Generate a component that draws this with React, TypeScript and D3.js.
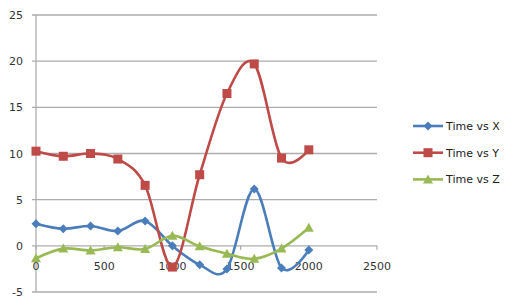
import React from "react";
import * as d3 from "d3";

const times = [0, 200, 400, 600, 800, 1000, 1200, 1400, 1600, 1800, 2000];
const seriesX = [2.4, 1.85, 2.15, 1.6, 2.7, 0, -2.05, -2.5, 6.15, -2.4, -0.45];
const seriesY = [10.25, 9.7, 10.0, 9.4, 6.55, -2.3, 7.7, 16.5, 19.7, 9.5, 10.4];
const seriesZ = [-1.35, -0.3, -0.5, -0.15, -0.35, 1.1, -0.05, -0.85, -1.4, -0.3, 1.95];
const xTicks = [0, 500, 1000, 1500, 2000, 2500];
const yTicks = [-5, 0, 5, 10, 15, 20, 25];
const names = ["Time vs X", "Time vs Y", "Time vs Z"];
const colors = ["#4A7EBB", "#BE4B48", "#98B954"];

export default function App() {
  const W = 512, H = 308;
  const x = d3.scaleLinear().domain([0, 2500]).range([36, 377]);
  const y = d3.scaleLinear().domain([-5, 25]).range([292, 15]);
  const line = d3
    .line<[number, number]>()
    .x((d) => x(d[0]))
    .y((d) => y(d[1]))
    .curve(d3.curveCardinal.tension(0));
  const all = [seriesX, seriesY, seriesZ];
  const font = "'DejaVu Sans', Verdana, sans-serif";

  const marker = (k: number, cx: number, cy: number, key: string | number) => {
    const c = colors[k];
    if (k === 0) {
      const s = 4.5;
      return (
        <path key={key} d={`M${cx},${cy - s}L${cx + s},${cy}L${cx},${cy + s}L${cx - s},${cy}Z`} fill={c} />
      );
    }
    if (k === 1) {
      const s = 4.5;
      return <rect key={key} x={cx - s} y={cy - s} width={2 * s} height={2 * s} fill={c} />;
    }
    const s = 5;
    return (
      <path key={key} d={`M${cx},${cy - s}L${cx + s},${cy + s * 0.8}L${cx - s},${cy + s * 0.8}Z`} fill={c} />
    );
  };

  return (
    <svg width={W} height={H} style={{ position: "absolute", left: 0, top: 0 }}>
      <rect width={W} height={H} fill="#fff" />
      {yTicks.map((t) => (
        <g key={t}>
          <line x1={32} x2={377} y1={y(t)} y2={y(t)} stroke="#ADADAD" strokeWidth={1.3} />
          <text x={23} y={y(t) + 4} textAnchor="end" fontFamily={font} fontSize={11} fill="#333">
            {t}
          </text>
        </g>
      ))}
      <line x1={36} x2={36} y1={y(25)} y2={y(-5)} stroke="#ADADAD" strokeWidth={1.3} />
      {xTicks.map((t) => (
        <g key={t}>
          <line x1={x(t)} x2={x(t)} y1={y(0)} y2={y(0) + 4} stroke="#ADADAD" strokeWidth={1.3} />
          <text x={x(t)} y={y(0) + 24} textAnchor="middle" fontFamily={font} fontSize={11} fill="#333">
            {t}
          </text>
        </g>
      ))}
      {all.map((vals, k) => {
        const pts = times.map((t, i) => [t, vals[i]] as [number, number]);
        return (
          <g key={k}>
            <path d={line(pts) || ""} fill="none" stroke={colors[k]} strokeWidth={2.6} />
            {pts.map((p, i) => marker(k, x(p[0]), y(p[1]), i))}
          </g>
        );
      })}
      {names.map((n, k) => {
        const ly = 126 + k * 26.7;
        return (
          <g key={n}>
            <line x1={413} x2={443} y1={ly} y2={ly} stroke={colors[k]} strokeWidth={2.6} />
            {marker(k, 428, ly, "m")}
            <text x={446} y={ly + 4} fontFamily={font} fontSize={11} fill="#222">
              {n}
            </text>
          </g>
        );
      })}
    </svg>
  );
}
